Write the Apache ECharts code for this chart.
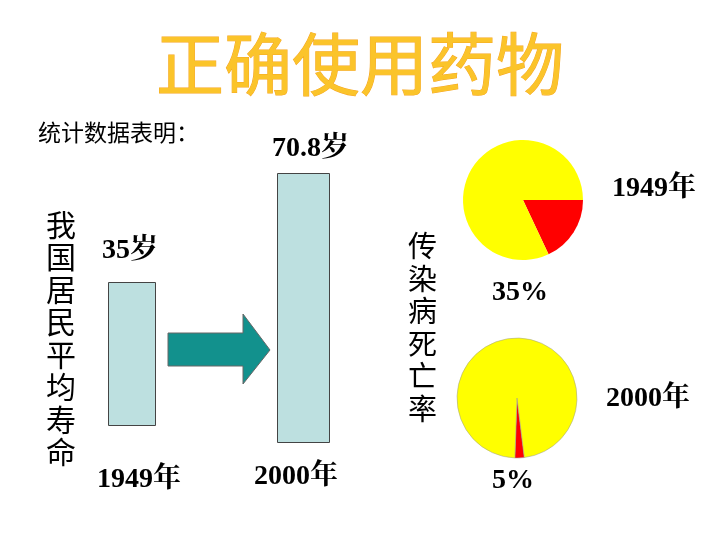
<!DOCTYPE html><html><head><meta charset="utf-8"><script src="https://cdn.jsdelivr.net/npm/echarts@6/dist/echarts.min.js"></script>
<style>html,body{margin:0;background:#fff}#c{width:720px;height:540px}</style></head><body><div id="c"></div><script>
const years = ['1949年','2000年'];
const lifeExpectancy = [35, 70.8];
const lifeLabels = ['35岁','70.8岁'];
const deathRateLabels = ['35%','5%'];
const pie1949 = [18, 82];   // red, yellow as drawn
const pie2000 = [2.5, 97.5];
const serif = '"Liberation Serif","Noto Serif CJK SC","Noto Sans CJK SC",serif';
const cjk = '"Noto Sans CJK SC",sans-serif';
function t(x,y,text,size,font){return {type:'text',left:x,top:y,style:{text:text,fontSize:size,fontFamily:font,fontWeight:'bold',fill:'#000'}};}
const chart = echarts.init(document.getElementById('c'));
chart.setOption({
  animation:false,
  grid:[{left:108,top:282,width:48,height:144},{left:277,top:173,width:53,height:270}],
  xAxis:[{gridIndex:0,type:'category',data:[years[0]],show:false},{gridIndex:1,type:'category',data:[years[1]],show:false}],
  yAxis:[{gridIndex:0,min:0,max:lifeExpectancy[0],show:false},{gridIndex:1,min:0,max:lifeExpectancy[1],show:false}],
  series:[
    {type:'bar',xAxisIndex:0,yAxisIndex:0,data:[lifeExpectancy[0]],barWidth:'100%',itemStyle:{color:'#bde0e0',borderColor:'#444',borderWidth:1}},
    {type:'bar',xAxisIndex:1,yAxisIndex:1,data:[lifeExpectancy[1]],barWidth:'100%',itemStyle:{color:'#bde0e0',borderColor:'#444',borderWidth:1}},
    {type:'pie',center:[523,200],radius:[0,60],startAngle:0,clockwise:true,label:{show:false},silent:true,
     data:[{value:pie1949[0],itemStyle:{color:'#ff0000'}},{value:pie1949[1],itemStyle:{color:'#ffff00'}}]},
    {type:'pie',center:[517,398],radius:[0,60],startAngle:-83,clockwise:true,label:{show:false},silent:true,
     itemStyle:{borderColor:'#999',borderWidth:0.5},
     data:[{value:pie2000[0],itemStyle:{color:'#ff0000'}},{value:pie2000[1],itemStyle:{color:'#ffff00'}}]}
  ],
  graphic:[
    {type:'text',left:'center',top:30,style:{text:'正确使用药物',fontSize:68,fontFamily:cjk,fontWeight:'normal',
      fill:'#fbc42a',stroke:'#f5a623',lineWidth:1,
      shadowColor:'rgba(120,120,140,0.8)',shadowOffsetX:3,shadowOffsetY:3,shadowBlur:1}},
    {type:'text',left:38,top:121,style:{text:'统计数据表明：',fontSize:23,fontFamily:cjk,fill:'#000'}},
    t(272,135,lifeLabels[1],28,serif),
    t(102,237,lifeLabels[0],28,serif),
    t(97,466,years[0],28,serif),
    t(254,463,years[1],28,serif),
    {type:'text',left:46,top:208,style:{text:'我\n国\n居\n民\n平\n均\n寿\n命',fontSize:30,lineHeight:32.5,fontFamily:cjk,fill:'#000'}},
    {type:'text',left:408,top:230,style:{text:'传\n染\n病\n死\n亡\n率',fontSize:29,lineHeight:32.5,fontFamily:cjk,fill:'#000'}},
    {type:'polygon',shape:{points:[[168,333],[243,333],[243,314],[270,350],[243,384],[243,366],[168,366]]},
      style:{fill:'#12918d',stroke:'#666',lineWidth:1}},
    t(612,175,years[0],28,serif),
    t(492,279,deathRateLabels[0],28,serif),
    t(606,385,years[1],28,serif),
    t(492,467,deathRateLabels[1],28,serif)
  ]
});
</script></body></html>
